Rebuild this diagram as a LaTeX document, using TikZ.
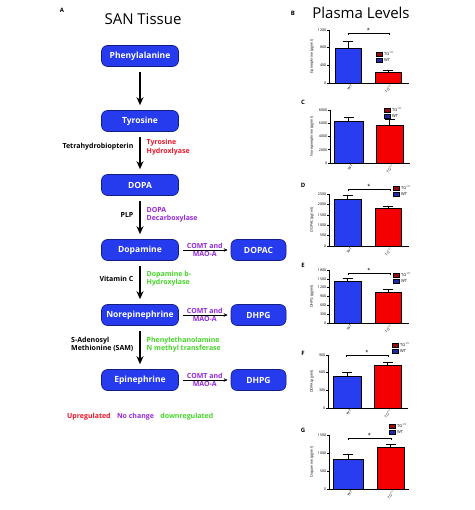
\documentclass[tikz,border=0pt]{standalone}
\usepackage{fontspec}
\setmainfont{Open Sans}
\usetikzlibrary{arrows.meta,positioning}
\definecolor{boxblue}{RGB}{38,58,238}
\definecolor{boxline}{RGB}{20,30,130}
\definecolor{upred}{RGB}{240,20,40}
\definecolor{nopurple}{RGB}{150,40,220}
\definecolor{downgreen}{RGB}{70,215,40}
\definecolor{barblue}{RGB}{40,60,240}
\definecolor{barred}{RGB}{245,0,0}
\definecolor{legred}{RGB}{150,10,20}
\definecolor{legblue}{RGB}{30,40,170}

\begin{document}
\begin{tikzpicture}[
    x=1pt, y=-1pt,
    stage/.style={
      draw=boxline,
      fill=boxblue,
      line width=0.6pt,
      rounded corners=6pt,
      minimum width=77pt,
      minimum height=21pt,
      text=white,
      font=\fontsize{8.5}{8.5}\selectfont\bfseries
    },
    flow/.style={line width=1.3pt, -{Stealth[length=8pt,width=7pt]}, shorten <=5pt, shorten >=5pt},
    side/.style={line width=0.7pt, -{Stealth[length=4pt,width=3.5pt]}, shorten <=4pt, shorten >=3pt},
    lbl/.style={font=\fontsize{7}{8.5}\selectfont\bfseries, inner sep=1pt},
    cofac/.style={lbl, align=right},
    upc/.style={lbl, text=upred, align=left},
    noc/.style={lbl, text=nopurple, align=left},
    downc/.style={lbl, text=downgreen, align=left},
    panel/.style={font=\fontsize{6}{6}\selectfont\bfseries, inner sep=0pt},
    axis/.style={line width=0.6pt},
    wtbar/.style={draw=black, fill=barblue, line width=0.8pt},
    tgbar/.style={draw=black, fill=barred, line width=0.8pt},
    errbar/.style={line width=0.9pt},
    ticklab/.style={anchor=east, font=\fontsize{3.6}{4}\selectfont, inner sep=0.5pt},
    ylab/.style={rotate=90, font=\fontsize{3.6}{4}\selectfont, inner sep=0pt},
    xlab/.style={rotate=45, anchor=east, font=\fontsize{3.6}{4}\selectfont, inner sep=0.5pt},
    star/.style={anchor=south, font=\fontsize{5.5}{5.5}\selectfont, inner sep=0.5pt},
    legbox/.style={draw=black, line width=0.4pt, minimum width=6pt, minimum height=4pt, inner sep=0pt, anchor=west},
    legtxt/.style={anchor=west, font=\fontsize{4}{4}\selectfont, inner sep=0pt}
  ]
  \useasboundingbox[fill=white] (0,0) rectangle (474,510);

  % A: SAN tissue pathway
  \node[panel] (pa) at (62,10) {A};
  \node[font=\fontsize{15}{15}\selectfont] (sant) at (143,19) {SAN Tissue};

  \node[stage] (phe) at (140,56) {Phenylalanine};
  \node[stage] (tyr) at (140,121) {Tyrosine};
  \node[stage] (dopa) at (140,185) {DOPA};
  \node[stage] (dopam) at (140,250) {Dopamine};
  \node[stage] (norepi) at (140,315) {Norepinephrine};
  \node[stage] (epi) at (140,380) {Epinephrine};

  \node[stage, minimum width=55pt] (dopac) at (258.5,250) {DOPAC};
  \node[stage, minimum width=55pt] (dhpga) at (258.5,315) {DHPG};
  \node[stage, minimum width=55pt] (dhpgb) at (258.5,380) {DHPG};

  \draw[flow] (phe) -- (tyr);
  \draw[flow] (tyr) -- (dopa)
    node[pos=0.36, left=5pt, cofac] {Tetrahydrobiopterin}
    node[pos=0.36, right=5pt, upc] {Tyrosine\\Hydroxlyase};
  \draw[flow] (dopa) -- (dopam)
    node[pos=0.44, left=5pt, cofac] {PLP}
    node[pos=0.44, right=5pt, noc] {DOPA\\Decarboxylase};
  \draw[flow] (dopam) -- (norepi)
    node[pos=0.41, left=5pt, cofac] {Vitamin C}
    node[pos=0.41, right=5pt, downc] {Dopamine b-\\Hydroxylase};
  \draw[flow] (norepi) -- (epi)
    node[pos=0.43, left=5pt, cofac, align=left] {S-Adenosyl\\Methionine (SAM)}
    node[pos=0.43, right=5pt, downc] {Phenylethanolamine\\N methyl transferase};

  \draw[side] (dopam) -- (dopac)
    node[midway, above=0pt, noc] {COMT and}
    node[midway, below=0pt, noc] {MAO-A};
  \draw[side] (norepi) -- (dhpga)
    node[midway, above=0pt, noc] {COMT and}
    node[midway, below=0pt, noc] {MAO-A};
  \draw[side] (epi) -- (dhpgb)
    node[midway, above=0pt, noc] {COMT and}
    node[midway, below=0pt, noc] {MAO-A};

  \node[upc, anchor=west] (kup) at (66,417) {Upregulated};
  \node[noc, right=4pt of kup] (kno) {No change};
  \node[downc, right=4pt of kno] (kdown) {downregulated};

  % B-G: plasma levels
  \node[panel] (pb) at (293,13) {B};
  \node[font=\fontsize{15}{15}\selectfont] (plas) at (361,13) {Plasma Levels};
  \node[panel] (pc) at (303,102) {C};
  \node[panel] (pd) at (303,185) {D};
  \node[panel] (pe) at (303,265) {E};
  \node[panel] (pf) at (303,353) {F};
  \node[panel] (pg) at (303,430) {G};

  % legends
  \foreach \lx/\ly [count=\i] in {376/54, 384/110, 393/188, 393/275, 392/345, 389/426} {
    \node[legbox, fill=legred] (ltg\i) at (\lx,\ly) {};
    \node[legtxt] at (\lx+8,\ly) {TG\textsuperscript{+/+}};
    \node[legbox, fill=legblue] (lwt\i) at (\lx,\ly+6) {};
    \node[legtxt] at (\lx+8,\ly+6) {WT};
  }

  % B epinephrine
  \begin{scope}[shift={(329,83)}, y=0.04417pt]
    \draw[axis] (0,1200) -- (0,0) -- (80,0);
    \foreach \v in {0,400,800,1200}
      \draw[axis] (0,\v) -- ++(-2pt,0) node[ticklab] {\v};
    \node[ylab] (ylb) at (-17,600) {Epinephrine (pg/ml)};
    \draw[wtbar] (6,0) rectangle (32,792);
    \draw[tgbar] (46,0) rectangle (72,249);
    \draw[errbar] (19,792) -- (19,951) ++(-5pt,0) -- ++(10pt,0);
    \draw[errbar] (59,249) -- (59,275) ++(-5pt,0) -- ++(10pt,0);
    \node[xlab, yshift=-3pt] (xwb) at (21,0) {WT};
    \node[xlab, yshift=-3pt] (xtb) at (61,0) {TG\textsuperscript{+/+}};
    \draw[axis] (19,1132) ++(0,-2pt) -- ++(0,2pt) -- ++(41pt,0) -- ++(0,-2pt);
    \node[star] (sb) at (39.5,1132) {*};
  \end{scope}

  % C norepinephrine
  \begin{scope}[shift={(330,163)}, y=0.006625pt]
    \draw[axis] (0,8000) -- (0,0) -- (80,0);
    \foreach \v in {0,2000,4000,6000,8000}
      \draw[axis] (0,\v) -- ++(-2pt,0) node[ticklab] {\v};
    \node[ylab] (ylc) at (-18,4000) {Norepinephrine (pg/ml)};
    \draw[wtbar] (4,0) rectangle (33,6340);
    \draw[tgbar] (46,0) rectangle (73,5740);
    \draw[errbar] (18.5,6340) -- (18.5,6940) ++(-5pt,0) -- ++(10pt,0);
    \draw[errbar] (59.5,5740) -- (59.5,6640) ++(-5pt,0) -- ++(10pt,0);
    \node[xlab, yshift=-3pt] (xwc) at (20.5,0) {WT};
    \node[xlab, yshift=-3pt] (xtc) at (61.5,0) {TG\textsuperscript{+/+}};
  \end{scope}

  % D DOPAC
  \begin{scope}[shift={(329,246)}, y=0.0208pt]
    \draw[axis] (0,2500) -- (0,0) -- (80,0);
    \foreach \v in {0,500,...,2500}
      \draw[axis] (0,\v) -- ++(-2pt,0) node[ticklab] {\v};
    \node[ylab] (yld) at (-17,1250) {DOPAC (pg/ml)};
    \draw[wtbar] (5,0) rectangle (32,2260);
    \draw[tgbar] (46,0) rectangle (72,1830);
    \draw[errbar] (18.5,2260) -- (18.5,2450) ++(-5pt,0) -- ++(10pt,0);
    \draw[errbar] (59,1830) -- (59,1920) ++(-5pt,0) -- ++(10pt,0);
    \node[xlab, yshift=-3pt] (xwd) at (20.5,0) {WT};
    \node[xlab, yshift=-3pt] (xtd) at (61,0) {TG\textsuperscript{+/+}};
    \draw[axis] (19,2740) ++(0,-2pt) -- ++(0,2pt) -- ++(42pt,0) -- ++(0,-2pt);
    \node[star] (sd) at (40,2740) {*};
  \end{scope}

  % E DHPG
  \begin{scope}[shift={(329,323)}, y=0.02944pt]
    \draw[axis] (0,1800) -- (0,0) -- (80,0);
    \foreach \v in {0,300,...,1800}
      \draw[axis] (0,\v) -- ++(-2pt,0) node[ticklab] {\v};
    \node[ylab] (yle) at (-17,900) {DHPG (pg/ml)};
    \draw[wtbar] (5,0) rectangle (32,1426);
    \draw[tgbar] (46,0) rectangle (72,1053);
    \draw[errbar] (18.5,1426) -- (18.5,1530) ++(-5pt,0) -- ++(10pt,0);
    \draw[errbar] (59,1053) -- (59,1155) ++(-5pt,0) -- ++(10pt,0);
    \node[xlab, yshift=-3pt] (xwe) at (20.5,0) {WT};
    \node[xlab, yshift=-3pt] (xte) at (61,0) {TG\textsuperscript{+/+}};
    \draw[axis] (19,1700) ++(0,-2pt) -- ++(0,2pt) -- ++(42pt,0) -- ++(0,-2pt);
    \node[star] (se) at (40,1700) {*};
  \end{scope}

  % F DOPA
  \begin{scope}[shift={(328,408)}, y=0.0589pt]
    \draw[axis] (0,900) -- (0,0) -- (80,0);
    \foreach \v in {0,300,600,900}
      \draw[axis] (0,\v) -- ++(-2pt,0) node[ticklab] {\v};
    \node[ylab] (ylf) at (-16,450) {DOPA (pg/ml)};
    \draw[wtbar] (5,0) rectangle (33,543);
    \draw[tgbar] (46,0) rectangle (73,730);
    \draw[errbar] (19,543) -- (19,611) ++(-5pt,0) -- ++(10pt,0);
    \draw[errbar] (59.5,730) -- (59.5,781) ++(-5pt,0) -- ++(10pt,0);
    \node[xlab, yshift=-3pt] (xwf) at (21,0) {WT};
    \node[xlab, yshift=-3pt] (xtf) at (61.5,0) {TG\textsuperscript{+/+}};
    \draw[axis] (18,900) ++(0,-2pt) -- ++(0,2pt) -- ++(42pt,0) -- ++(0,-2pt);
    \node[star] (sf) at (39,900) {*};
  \end{scope}

  % G dopamine
  \begin{scope}[shift={(329,489)}, y=0.036pt]
    \draw[axis] (0,1500) -- (0,0) -- (80,0);
    \foreach \v in {0,500,1000,1500}
      \draw[axis] (0,\v) -- ++(-2pt,0) node[ticklab] {\v};
    \node[ylab] (ylg) at (-17,750) {Dopamine (pg/ml)};
    \draw[wtbar] (4,0) rectangle (34,833);
    \draw[tgbar] (48,0) rectangle (75,1167);
    \draw[errbar] (19,833) -- (19,972) ++(-5pt,0) -- ++(10pt,0);
    \draw[errbar] (61.5,1167) -- (61.5,1250) ++(-5pt,0) -- ++(10pt,0);
    \node[xlab, yshift=-3pt] (xwg) at (21,0) {WT};
    \node[xlab, yshift=-3pt] (xtg) at (63.5,0) {TG\textsuperscript{+/+}};
    \draw[axis] (19,1417) ++(0,-2pt) -- ++(0,2pt) -- ++(43pt,0) -- ++(0,-2pt);
    \node[star] (sg) at (40.5,1417) {*};
  \end{scope}
\end{tikzpicture}
\end{document}
